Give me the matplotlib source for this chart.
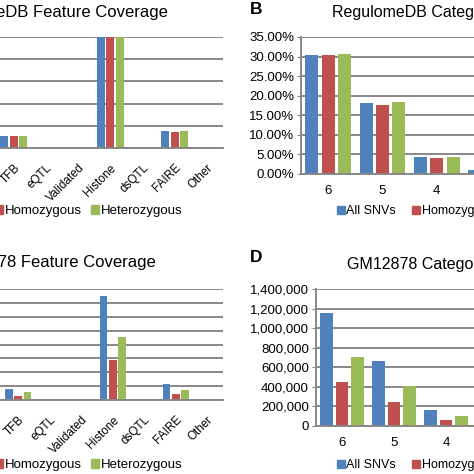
import matplotlib
matplotlib.use("Agg")
import matplotlib.pyplot as plt
from matplotlib.patches import Patch
from matplotlib.ticker import FuncFormatter, MultipleLocator
import numpy as np

plt.rcParams["font.family"] = ["Liberation Sans", "DejaVu Sans"]

BLUE = "#4F81BD"; RED = "#C0504D"; GREEN = "#9BBB59"; GRID = "#888888"
SERIES = ["All SNVs", "Homozygous", "Heterozygous"]
COLORS = [BLUE, RED, GREEN]

# feature coverage (A: RegulomeDB, C: GM12878)
features = ["DNase", "TFB", "eQTL", "Validated", "Histone", "dsQTL", "FAIRE", "Other"]
reg_all = [0.0, 5.5, 0.2, 0.0, 50.0, 0.0, 7.8, 0.0]
reg_homo = [0.0, 5.5, 0.2, 0.0, 50.0, 0.0, 7.3, 0.0]
reg_het = [0.0, 5.5, 0.2, 0.0, 50.0, 0.0, 7.8, 0.0]
gm_all = [300000, 158000, 10000, 0, 1492000, 0, 226000, 0]
gm_homo = [60000, 62000, 2000, 0, 580000, 0, 90000, 0]
gm_het = [100000, 110000, 4000, 0, 906000, 0, 140000, 0]

# category distributions (B: RegulomeDB %, D: GM12878 counts)
cats = ["6", "5", "4", "3"]
regcat_all = [30.5, 18.1, 4.3, 1.0]
regcat_homo = [30.5, 17.6, 4.2, 0.9]
regcat_het = [30.6, 18.3, 4.3, 1.0]
gmcat_all = [1161000, 663000, 161000, 40000]
gmcat_homo = [451000, 246000, 58000, 15000]
gmcat_het = [707000, 407000, 102000, 25000]

W = H = 474
fig = plt.figure(figsize=(W / 100, H / 100), dpi=100)


def px_axes(left, top, right, bottom):
    return fig.add_axes([left / W, 1 - bottom / H, (right - left) / W, (bottom - top) / H])


def bars(ax, labels, series, ymax, step, left_spine):
    x = np.arange(len(labels))
    for i, (vals, c) in enumerate(zip(series, COLORS)):
        ax.bar(x + (i - 1) * 0.30, vals, 0.24, color=c, zorder=2)
    ax.set_xlim(-0.5, len(labels) - 0.5)
    ax.set_ylim(0, ymax)
    ax.yaxis.set_major_locator(MultipleLocator(step))
    ax.grid(axis="y", color=GRID, lw=1.4)
    ax.set_axisbelow(True)
    for s in ["top", "right"]:
        ax.spines[s].set_visible(False)
    ax.spines["bottom"].set_color(GRID); ax.spines["bottom"].set_linewidth(1.4)
    ax.spines["left"].set_visible(left_spine)
    ax.spines["left"].set_color(GRID); ax.spines["left"].set_linewidth(1.4)
    ax.set_xticks(x)
    ax.tick_params(axis="x", length=0)
    ax.tick_params(axis="y", length=3, color=GRID, labelsize=9.5, pad=2)
    return x


def legend(x, y, loc, colspace, fs):
    handles = [Patch(color=c, label=s) for c, s in zip(COLORS, SERIES)]
    fig.legend(handles=handles, loc=loc, bbox_to_anchor=(x / W, 1 - y / H), ncol=3,
               frameon=False, fontsize=fs, handlelength=0.6, handleheight=0.6,
               handletextpad=0.15, columnspacing=colspace, borderpad=0, borderaxespad=0)


# A
axA = px_axes(223 - 8 * 32.2, 37, 223, 148)
bars(axA, features, [reg_all, reg_homo, reg_het], 50, 10, False)
axA.set_xticklabels(features, rotation=45, ha="right", rotation_mode="anchor", fontsize=8.5)
axA.tick_params(axis="x", pad=10)
fig.text(168 / W, 1 - 12 / H, "RegulomeDB Feature Coverage", ha="right", va="center", fontsize=12)
legend(183, 211, "center right", 0.7, 9.5)

# C
axC = px_axes(223 - 8 * 31.5, 289, 223, 400)
bars(axC, features, [gm_all, gm_homo, gm_het], 1600000, 200000, False)
axC.set_xticklabels(features, rotation=45, ha="right", rotation_mode="anchor", fontsize=8.5)
axC.tick_params(axis="x", pad=10)
fig.text(156 / W, 1 - 263 / H, "GM12878 Feature Coverage", ha="right", va="center", fontsize=12)
legend(183, 465, "center right", 0.7, 9.5)

# B
axB = px_axes(301, 37, 301 + 4 * 54.3, 174)
bars(axB, cats, [regcat_all, regcat_homo, regcat_het], 35, 5, True)
axB.set_xticklabels(cats, fontsize=9.5)
axB.tick_params(axis="x", pad=8)
axB.yaxis.set_major_formatter(FuncFormatter(lambda v, p: f"{v:.2f}%"))
fig.text(250 / W, 1 - 9 / H, "B", ha="left", va="center", fontsize=12.5, fontweight="bold")
fig.text(332 / W, 1 - 12 / H, "RegulomeDB Category Distribution", ha="left", va="center", fontsize=11.5)
legend(337, 211, "center left", 1.3, 9)

# D
axD = px_axes(316, 289.3, 316 + 4 * 52, 426)
bars(axD, cats, [gmcat_all, gmcat_homo, gmcat_het], 1400000, 200000, True)
axD.set_xticklabels(cats, fontsize=9.5)
axD.tick_params(axis="x", pad=8)
axD.yaxis.set_major_formatter(FuncFormatter(lambda v, p: f"{v:,.0f}"))
fig.text(250 / W, 1 - 258 / H, "D", ha="left", va="center", fontsize=12.5, fontweight="bold")
fig.text(347 / W, 1 - 265 / H, "GM12878 Category Distribution", ha="left", va="center", fontsize=11.5)
legend(337, 465, "center left", 1.3, 9)

fig.savefig("out.png", dpi=100, facecolor="white")
